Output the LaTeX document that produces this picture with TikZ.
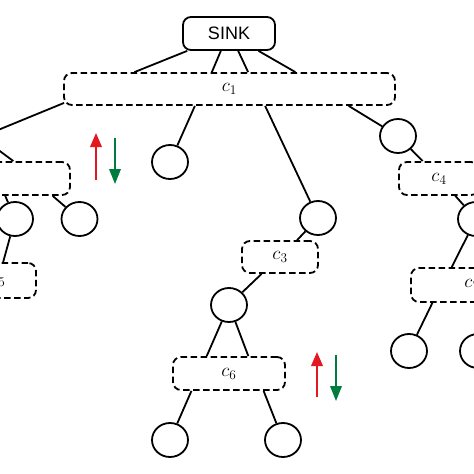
\RequirePackage{fix-cm}
\documentclass[tikz,border=0pt]{standalone}
\usepackage{fontspec}
\newfontfamily\sinkfont{Liberation Sans}
\usetikzlibrary{shapes.geometric,arrows.meta,calc}
\definecolor{upred}{RGB}{228,24,32}
\definecolor{downgreen}{RGB}{0,125,62}
\begin{document}
\begin{tikzpicture}[x=1pt,y=-1pt,
  line width=1.8pt,
  cbox/.style={draw, dash pattern=on 6.5pt off 3.5pt, rounded corners=8pt, inner sep=0pt,
    font=\fontsize{19}{23}\selectfont},
  sinkbox/.style={draw, rounded corners=8pt, minimum width=92pt, minimum height=33pt,
    inner sep=0pt, font=\sinkfont\fontsize{18}{22}\selectfont},
  vtx/.style={draw, ellipse, minimum width=36pt, minimum height=34pt, inner sep=0pt},
  uparr/.style={draw=upred, line width=2pt, -{Triangle[width=11.5pt,length=14pt,fill=upred]}},
  downarr/.style={draw=downgreen, line width=2pt, -{Triangle[width=11.5pt,length=15pt,fill=downgreen]}}]
\useasboundingbox (0,0) rectangle (474,474);
\fill[white] (0,0) rectangle (474,474);
\begin{scope}
\clip (0,0) rectangle (474,474);
% boxes
\node[sinkbox] (sink) at (229,33.5) {SINK};
\node[cbox, minimum width=331pt, minimum height=32pt] (c1) at (229.5,89) {$c_1$};
\node[cbox, minimum width=170pt, minimum height=33pt] (c2) at (-15,178.5) {$c_2$};
\node[cbox, minimum width=80pt, minimum height=33pt] (c4) at (439,178.5) {$c_4$};
\node[cbox, minimum width=76pt, minimum height=32pt] (c3) at (280,257) {$c_3$};
\node[cbox, minimum width=112pt, minimum height=33pt] (c6) at (229,373.5) {$c_6$};
\node[cbox, minimum width=76pt, minimum height=35pt] (c5) at (-2,280.5) {$c_5$};
\node[cbox, minimum width=122pt, minimum height=34pt] (c7) at (472,285) {$c_7$};
% vertices
\node[vtx] (v0) at (-19,137) {};
\node[vtx] (vA) at (170,162) {};
\node[vtx] (vB) at (318,218) {};
\node[vtx] (vC) at (398,136) {};
\node[vtx] (vD) at (476,219) {};
\node[vtx] (vL) at (15,219) {};
\node[vtx] (vR) at (79.5,219) {};
\node[vtx] (vE) at (229,305) {};
\node[vtx] (vF) at (170,440) {};
\node[vtx] (vG) at (283,440) {};
\node[vtx] (vH) at (409,351) {};
\node[vtx] (vI) at (478,351) {};
% connectors
\draw ($(sink.south west)!0.054!(sink.south east)$) -- ($(c1.north west)!0.2145!(c1.north east)$);
\draw ($(sink.south west)!0.413!(sink.south east)$) -- ($(c1.north west)!0.447!(c1.north east)$);
\draw ($(sink.south west)!0.598!(sink.south east)$) -- ($(c1.north west)!0.556!(c1.north east)$);
\draw ($(sink.south west)!0.815!(sink.south east)$) -- ($(c1.north west)!0.698!(c1.north east)$);
\draw ($(c1.south west)+(1,-3)$) -- (v0);
\draw (v0) -- ($(c2.north west)!0.665!(c2.north east)$);
\draw ($(c1.south west)!0.396!(c1.south east)$) -- (vA);
\draw ($(c1.south west)!0.607!(c1.south east)$) -- (vB);
\draw ($(c1.south west)!0.858!(c1.south east)$) -- (vC);
\draw (vC) -- ($(c4.north west)!0.3!(c4.north east)$);
\draw ($(c4.south west)!0.7!(c4.south east)$) -- (vD);
\draw (vD) -- ($(c7.north west)!0.336!(c7.north east)$);
\draw ($(c7.south west)!0.18!(c7.south east)$) -- (vH);
\draw ($(c7.south west)!0.62!(c7.south east)$) -- (vI);
\draw (vB) -- ($(c3.north west)!0.72!(c3.north east)$);
\draw ($(c3.south west)!0.263!(c3.south east)$) -- (vE);
\draw (vE) -- ($(c6.north west)!0.304!(c6.north east)$);
\draw (vE) -- ($(c6.north west)!0.67!(c6.north east)$);
\draw ($(c6.south west)!0.17!(c6.south east)$) -- (vF);
\draw ($(c6.south west)!0.804!(c6.south east)$) -- (vG);
\draw ($(c2.south west)!0.618!(c2.south east)$) -- (vL);
\draw ($(c2.south west)!0.894!(c2.south east)$) -- (vR);
\draw (vL) -- ($(c5.north west)!0.566!(c5.north east)$);
% direction arrows
\draw[uparr] (96,180) -- (96,133);
\draw[downarr] (115,138) -- (115,184);
\draw[uparr] (317,397) -- (317,352);
\draw[downarr] (336,355) -- (336,401);
\end{scope}
\end{tikzpicture}
\end{document}
